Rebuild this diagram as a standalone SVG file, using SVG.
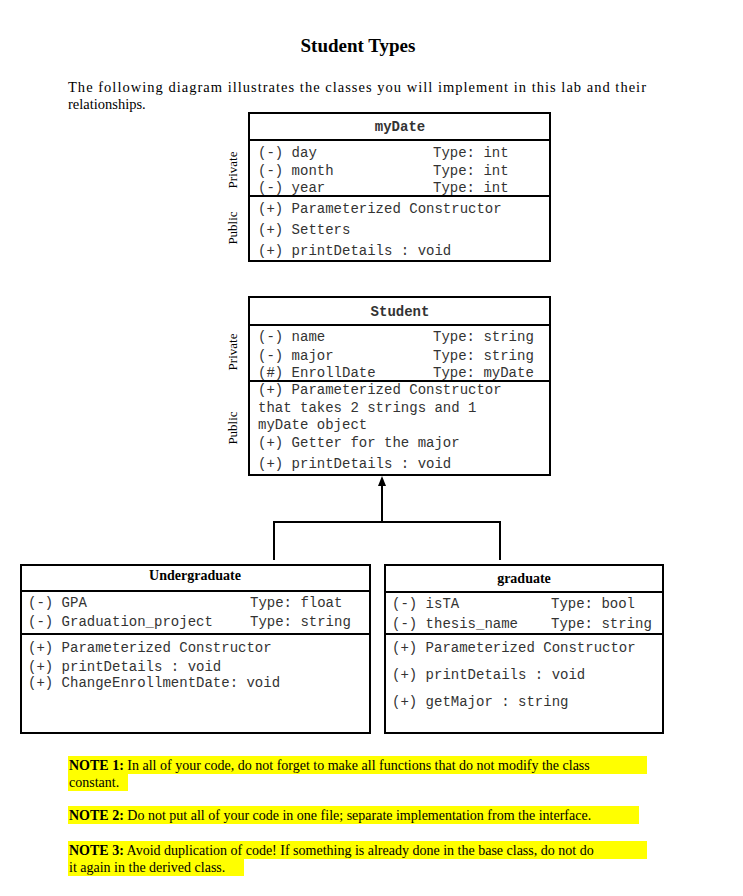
<svg xmlns="http://www.w3.org/2000/svg" width="743" height="896" viewBox="0 0 743 896">
<style>
.s{font-family:"Liberation Serif",serif;fill:#000}
.m{font-family:"Liberation Mono",monospace;font-size:14px;fill:#333}
.b{fill:#fff;stroke:#000;stroke-width:2}
.l{stroke:#000;stroke-width:2}
.side{font-family:"Liberation Serif",serif;font-size:13px;text-anchor:middle}
.hl{fill:#ffff00}
</style>
<rect width="743" height="896" fill="#fff"/>
<text class="s" x="358" y="52" font-size="19" font-weight="bold" text-anchor="middle">Student Types</text>
<text class="s" x="68" y="92" font-size="14.5" textLength="578" lengthAdjust="spacing">The following diagram illustrates the classes you will implement in this lab and their</text>
<text class="s" x="68" y="109" font-size="14.5">relationships.</text>

<g id="myDate">
<rect class="b" x="249" y="113" width="301" height="148"/>
<line class="l" x1="249" y1="140" x2="550" y2="140"/>
<line class="l" x1="249" y1="196" x2="550" y2="196"/>
<text class="m" x="400" y="131" font-weight="bold" text-anchor="middle" fill="#000">myDate</text>
<text class="m" x="258" y="157">(-) day</text><text class="m" x="433" y="157">Type: int</text>
<text class="m" x="258" y="175">(-) month</text><text class="m" x="433" y="175">Type: int</text>
<text class="m" x="258" y="192">(-) year</text><text class="m" x="433" y="192">Type: int</text>
<text class="m" x="258" y="213">(+) Parameterized Constructor</text>
<text class="m" x="258" y="234">(+) Setters</text>
<text class="m" x="258" y="255">(+) printDetails    : void</text>
<text class="side" transform="translate(237,170) rotate(-90)">Private</text>
<text class="side" transform="translate(237,228) rotate(-90)">Public</text>
</g>

<g id="Student">
<rect class="b" x="249" y="297" width="301" height="178"/>
<line class="l" x1="249" y1="325" x2="550" y2="325"/>
<line class="l" x1="249" y1="381" x2="550" y2="381"/>
<text class="m" x="400" y="316" font-weight="bold" text-anchor="middle" fill="#000">Student</text>
<text class="m" x="258" y="341">(-) name</text><text class="m" x="433" y="341">Type: string</text>
<text class="m" x="258" y="360">(-) major</text><text class="m" x="433" y="360">Type: string</text>
<text class="m" x="258" y="377">(#) EnrollDate</text><text class="m" x="433" y="377">Type: myDate</text>
<text class="m" x="258" y="394">(+) Parameterized Constructor</text>
<text class="m" x="258" y="412">that takes 2 strings and 1</text>
<text class="m" x="258" y="429">myDate object</text>
<text class="m" x="258" y="447">(+) Getter for the major</text>
<text class="m" x="258" y="468">(+) printDetails    : void</text>
<text class="side" transform="translate(237,352) rotate(-90)">Private</text>
<text class="side" transform="translate(237,428) rotate(-90)">Public</text>
</g>

<g id="connectors">
<polyline fill="none" class="l" points="274,560 274,522 500,522 500,560"/>
<line class="l" x1="382" y1="522" x2="382" y2="484"/>
<polygon points="382,476 378,486 386,486" fill="#000"/>
</g>

<g id="Undergraduate">
<rect class="b" x="21" y="565" width="349" height="168"/>
<line class="l" x1="21" y1="591" x2="370" y2="591"/>
<line class="l" x1="21" y1="634" x2="370" y2="634"/>
<text class="s" x="195" y="580" font-size="14" font-weight="bold" text-anchor="middle">Undergraduate</text>
<text class="m" x="28" y="607" font-size="13.5">(-) GPA</text><text class="m" x="250" y="607" font-size="13.5">Type: float</text>
<text class="m" x="28" y="626" font-size="13.5">(-) Graduation_project</text><text class="m" x="250" y="626" font-size="13.5">Type: string</text>
<text class="m" x="28" y="652" font-size="13.5">(+) Parameterized Constructor</text>
<text class="m" x="28" y="671" font-size="13.5">(+) printDetails    : void</text>
<text class="m" x="28" y="687" font-size="13.5">(+) ChangeEnrollmentDate: void</text>
</g>

<g id="graduate">
<rect class="b" x="385" y="565" width="278" height="168"/>
<line class="l" x1="385" y1="592" x2="663" y2="592"/>
<line class="l" x1="385" y1="634" x2="663" y2="634"/>
<text class="s" x="524" y="583" font-size="14" font-weight="bold" text-anchor="middle">graduate</text>
<text class="m" x="392" y="608" font-size="13.5">(-) isTA</text><text class="m" x="551" y="608" font-size="13.5">Type: bool</text>
<text class="m" x="392" y="628" font-size="13.5">(-) thesis_name</text><text class="m" x="551" y="628" font-size="13.5">Type: string</text>
<text class="m" x="392" y="652" font-size="13.5">(+) Parameterized Constructor</text>
<text class="m" x="392" y="679" font-size="13.5">(+) printDetails     : void</text>
<text class="m" x="392" y="706" font-size="13.5">(+) getMajor        : string</text>
</g>

<g id="notes">
<rect class="hl" x="68" y="756" width="579" height="18"/>
<rect class="hl" x="68" y="774" width="60" height="17"/>
<rect class="hl" x="68" y="806" width="571" height="18"/>
<rect class="hl" x="68" y="841" width="579" height="18"/>
<rect class="hl" x="68" y="859" width="176" height="17"/>
<text class="s" x="69" y="770" font-size="14"><tspan font-weight="bold">NOTE 1:</tspan> In all of your code, do not forget to make all functions that do not modify the class</text>
<text class="s" x="69" y="787" font-size="14">constant.</text>
<text class="s" x="69" y="820" font-size="14"><tspan font-weight="bold">NOTE 2:</tspan> Do not put all of your code in one file; separate implementation from the interface.</text>
<text class="s" x="69" y="855" font-size="14"><tspan font-weight="bold">NOTE 3:</tspan> Avoid duplication of code! If something is already done in the base class, do not do</text>
<text class="s" x="69" y="872" font-size="14">it again in the derived class.</text>
</g>
</svg>
